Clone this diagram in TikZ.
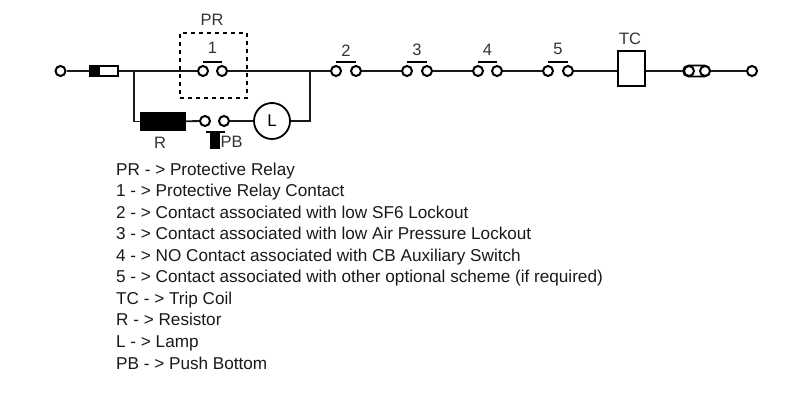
\documentclass[tikz,border=0pt]{standalone}
\usepackage{fontspec}
\setmainfont{Liberation Sans}
\usetikzlibrary{positioning,calc,shapes.misc}
\begin{document}
\begin{tikzpicture}[x=1pt,y=-1pt,
    terminal/.style ={circle, draw=black, line width=2pt, fill=white,
      minimum size=10pt, inner sep=0pt},
    block_coil/.style ={rectangle, draw=black, line width=2pt, fill=white,
      minimum width=27pt, minimum height=34pt},
    block_res/.style ={rectangle, draw=black, fill=black,
      minimum width=45pt, minimum height=18pt, inner sep=0pt},
    block_lamp/.style ={circle, draw=black, line width=1.8pt, fill=white,
      minimum size=36pt, inner sep=0pt, font=\fontsize{17pt}{19}\selectfont},
    bar/.style ={draw=black, line width=1.5pt},
    tag/.style ={inner sep=0pt, text=black!80, font=\fontsize{16.5pt}{18}\selectfont},
    paths/.style={draw=black!90, line width=1.8pt}]
    \useasboundingbox (0,0) rectangle (808,404);
    % main line terminals and fuse
    \node[terminal] (t1) at (60.5,71) {};
    \node[terminal] (t2) at (752,71) {};
    \node[rectangle, draw=black, line width=1.4pt, fill=white,
      minimum width=28pt, minimum height=10pt, inner sep=0pt] (fuse) at (104,71) {};
    \node[rectangle, fill=black, minimum width=10pt, minimum height=11.5pt, inner sep=0pt] (fuseb) at (95,71) {};
    % contacts on the main line
    \foreach \name/\xa/\xb/\ytxt in {1/203/222/48, 2/336/356/51, 3/407/427/50, 4/478/497/50, 5/548/568/49}{
      \node[terminal] (c\name a) at (\xa,71) {};
      \node[terminal] (c\name b) at (\xb,71) {};
      \coordinate (bl\name) at (\xa,62);
      \coordinate (br\name) at (\xb,62);
      \draw[bar] (bl\name) -- (br\name);
      \node[tag] (lab\name) at ({(\xa+\xb)/2},\ytxt) {\name};
    }
    % relay box
    \node[rectangle, draw=black, line width=1.9pt, dash pattern=on 4pt off 4pt,
      minimum width=67pt, minimum height=65pt, inner sep=0pt] (relay) at (213.5,65.5) {};
    \node[tag] (pr) at (212,20) {PR};
    % trip coil
    \node[block_coil] (tc) at (631,68.5) {};
    \node[tag] (tclab) at (630,39) {TC};
    % link
    \node[rounded rectangle, draw=black, line width=1.7pt, fill=white,
      minimum width=27pt, minimum height=11pt, inner sep=0pt] (link) at (696.5,71) {};
    \node[terminal] (la) at (689,71) {};
    \node[terminal] (lb) at (705,71) {};
    % lower branch
    \node[block_res] (res) at (163,121.5) {};
    \node[tag] (rlab) at (160,143) {R};
    \node[terminal] (pba) at (205,121) {};
    \node[terminal] (pbb) at (224,121) {};
    \node[block_lamp] (lamp) at (272,121) {L};
    \node[rectangle, fill=black, minimum width=19pt, minimum height=2.5pt, inner sep=0pt] (pbtop) at (215,132) {};
    \node[rectangle, fill=black, minimum width=10pt, minimum height=17pt, inner sep=0pt] (pbstem) at (215,140) {};
    \node[tag, anchor=west] (pblab) at (220.5,142) {PB};
    \coordinate (jl) at (134,71);
    \coordinate (jr) at (310,71);
    \coordinate (tick) at (270,71);
    % connecting nodes with paths
    \begin{scope}[every path/.style=paths]
      \path (t1)--(fuseb);
      \path (fuse)--(c1a);
      \path (c1b)--(c2a);
      \path[line width=2.4pt] (c1b)--(tick);
      \path (c2b)--(c3a);
      \path (c3b)--(c4a);
      \path (c4b)--(c5a);
      \path (c5b)--(c5b-|tc.west);
      \path (tc.east|-lb)--(link);
      \path (link)--(t2);
      \path (jl)|-(res);
      \path (res)--(pba);
      \path (pbb)--(lamp);
      \path (lamp)-|(jr);
    \end{scope}
    % legend
    \node[anchor=north west, align=left, inner sep=0pt, text=black!90,
      font=\fontsize{17.15pt}{21.55pt}\selectfont] (legend) at (116,162.5) {%
      PR - > Protective Relay\\
      1 - > Protective Relay Contact\\
      2 - > Contact associated with low SF6 Lockout\\
      3 - > Contact associated with low Air Pressure Lockout\\
      4 - > NO Contact associated with CB Auxiliary Switch\\
      5 - > Contact associated with other optional scheme (if required)\\
      TC - > Trip Coil\\
      R - > Resistor\\
      L - > Lamp\\
      PB - > Push Bottom};
  \end{tikzpicture}
\end{document}
